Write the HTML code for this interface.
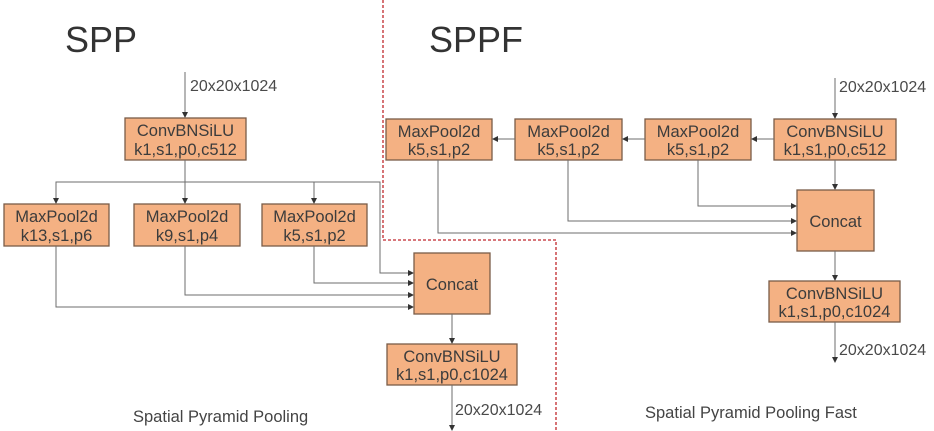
<!DOCTYPE html>
<html><head><meta charset="utf-8"><style>
html,body{margin:0;padding:0;background:#fff;}
svg{display:block;font-family:"Liberation Sans","DejaVu Sans",sans-serif;}
.b{fill:#f4b183;stroke:#7a5c48;stroke-width:1.3;}
.t{font-size:16.5px;fill:#3c3c3c;text-anchor:middle;}
.l{stroke:#6e6e6e;stroke-width:1;fill:none;}
.lab{font-size:16px;fill:#4a4a4a;}
</style></head><body>
<svg width="934" height="431" viewBox="0 0 934 431" xmlns="http://www.w3.org/2000/svg">
<defs><marker id="a" markerWidth="6" markerHeight="6" refX="5" refY="3" orient="auto" markerUnits="userSpaceOnUse"><path d="M0,0 L6,3 L0,6 z" fill="#333"/></marker></defs>
<text x="65" y="52" font-size="36" fill="#333">SPP</text>
<text x="429" y="52" font-size="36" fill="#333">SPPF</text>
<path d="M383,0 V240 H556 V431" stroke="#c0282d" stroke-width="1.3" stroke-dasharray="3,2" fill="none"/>

<!-- SPP -->
<line class="l" x1="185" y1="72" x2="185" y2="117" marker-end="url(#a)"/>
<text class="lab" x="190" y="91">20x20x1024</text>
<rect class="b" x="125" y="118" width="121" height="42"/>
<text class="t" x="185.5" y="136">ConvBNSiLU</text><text class="t" x="185.5" y="155">k1,s1,p0,c512</text>
<line class="l" x1="185" y1="160" x2="185" y2="203" marker-end="url(#a)"/>
<polyline class="l" points="56,203 56,182 380,182 380,273 413,273" marker-end="url(#a)"/>
<line class="l" x1="314" y1="182" x2="314" y2="203" marker-end="url(#a)"/>
<line class="l" x1="56" y1="190" x2="56" y2="203" marker-end="url(#a)"/>
<rect class="b" x="4" y="204" width="105" height="42"/>
<text class="t" x="56.5" y="222">MaxPool2d</text><text class="t" x="56.5" y="241">k13,s1,p6</text>
<rect class="b" x="134" y="204" width="106" height="42"/>
<text class="t" x="187" y="222">MaxPool2d</text><text class="t" x="187" y="241">k9,s1,p4</text>
<rect class="b" x="262" y="204" width="105" height="42"/>
<text class="t" x="314.5" y="222">MaxPool2d</text><text class="t" x="314.5" y="241">k5,s1,p2</text>
<polyline class="l" points="314,246 314,283 413,283" marker-end="url(#a)"/>
<polyline class="l" points="185,246 185,295 413,295" marker-end="url(#a)"/>
<polyline class="l" points="56,246 56,307 413,307" marker-end="url(#a)"/>
<rect class="b" x="414" y="253" width="76" height="61"/>
<text class="t" x="452" y="290" font-size="17">Concat</text>
<line class="l" x1="452" y1="314" x2="452" y2="343" marker-end="url(#a)"/>
<rect class="b" x="387" y="344" width="130" height="41"/>
<text class="t" x="452" y="362">ConvBNSiLU</text><text class="t" x="452" y="380">k1,s1,p0,c1024</text>
<line class="l" x1="452" y1="385" x2="452" y2="430" marker-end="url(#a)"/>
<text class="lab" x="455" y="415">20x20x1024</text>
<text x="133" y="422" font-size="16.5" fill="#444">Spatial Pyramid Pooling</text>

<!-- SPPF -->
<line class="l" x1="835" y1="78" x2="835" y2="118" marker-end="url(#a)"/>
<text class="lab" x="839" y="92">20x20x1024</text>
<rect class="b" x="774" y="119" width="122" height="41"/>
<text class="t" x="835" y="137">ConvBNSiLU</text><text class="t" x="835" y="155">k1,s1,p0,c512</text>
<rect class="b" x="645" y="119" width="106" height="41"/>
<text class="t" x="698" y="137">MaxPool2d</text><text class="t" x="698" y="155">k5,s1,p2</text>
<rect class="b" x="515" y="119" width="107" height="41"/>
<text class="t" x="568.5" y="137">MaxPool2d</text><text class="t" x="568.5" y="155">k5,s1,p2</text>
<rect class="b" x="386" y="119" width="106" height="41"/>
<text class="t" x="439" y="137">MaxPool2d</text><text class="t" x="439" y="155">k5,s1,p2</text>
<line class="l" x1="774" y1="139" x2="752" y2="139" marker-end="url(#a)"/>
<line class="l" x1="645" y1="139" x2="623" y2="139" marker-end="url(#a)"/>
<line class="l" x1="515" y1="139" x2="493" y2="139" marker-end="url(#a)"/>
<line class="l" x1="835" y1="160" x2="835" y2="189" marker-end="url(#a)"/>
<polyline class="l" points="698,160 698,206 796,206" marker-end="url(#a)"/>
<polyline class="l" points="568,160 568,221 796,221" marker-end="url(#a)"/>
<polyline class="l" points="438,160 438,233 796,233" marker-end="url(#a)"/>
<rect class="b" x="797" y="190" width="77" height="61"/>
<text class="t" x="835.5" y="227" font-size="17">Concat</text>
<line class="l" x1="835" y1="251" x2="835" y2="280" marker-end="url(#a)"/>
<rect class="b" x="769" y="281" width="131" height="41"/>
<text class="t" x="834.5" y="299">ConvBNSiLU</text><text class="t" x="834.5" y="317">k1,s1,p0,c1024</text>
<line class="l" x1="835" y1="322" x2="835" y2="362" marker-end="url(#a)"/>
<text class="lab" x="839" y="355">20x20x1024</text>
<text x="645" y="418" font-size="16.5" fill="#444">Spatial Pyramid Pooling Fast</text>
</svg>
</body></html>
